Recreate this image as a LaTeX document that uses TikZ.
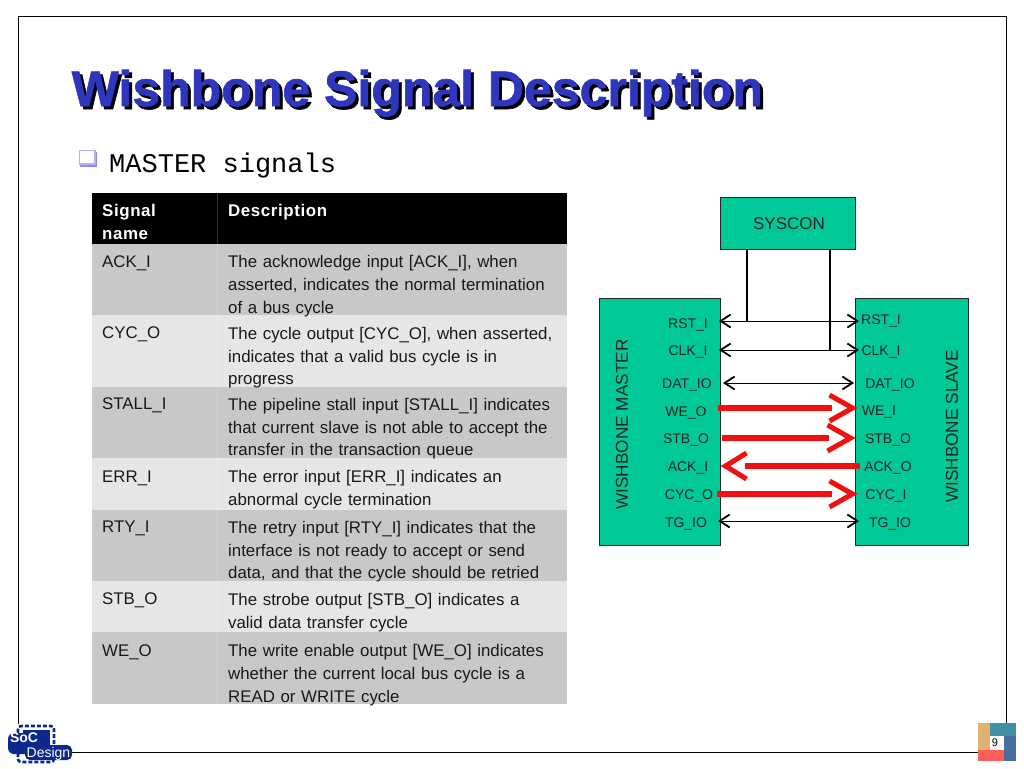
\documentclass[tikz,border=0pt]{standalone}
\usepackage{fontspec}
\setmainfont{Liberation Sans}
\newfontfamily\monofont{Liberation Mono}
\usetikzlibrary{arrows.meta}
\definecolor{wbgreen}{RGB}{0,200,150}
\definecolor{wbblue}{RGB}{46,54,190}
\definecolor{rowdark}{RGB}{200,200,200}
\definecolor{rowlight}{RGB}{230,230,230}
\definecolor{logoblue}{RGB}{12,40,140}
\definecolor{wbred}{RGB}{240,16,16}
\definecolor{boxtan}{RGB}{224,178,112}
\definecolor{boxteal}{RGB}{64,145,165}
\definecolor{boxblue}{RGB}{72,110,155}
\definecolor{boxred}{RGB}{250,95,90}
\tikzset{
	cell/.style={anchor=north west, inner sep=0pt, align=left, text width=#1, font=\fontsize{16.85}{22.7}\selectfont, text=black!90},
	headcell/.style={cell=#1, font=\fontsize{16.9}{23}\selectfont\bfseries\addfontfeatures{LetterSpace=3.5}, text=white},
	titletext/.style={anchor=base west, inner sep=0pt, font=\fontsize{50}{50}\selectfont\bfseries\addfontfeatures{FakeBold=1.2}},
	block/.style={draw=black!85, line width=1pt, fill=wbgreen, inner sep=0pt, anchor=north west, text=black!85},
	blockname/.style={rotate=90, inner sep=0pt, font=\fontsize{17.2}{17.2}\selectfont, text=black!85},
	sig/.style={font=\fontsize{14}{14}\selectfont, text=black!85, inner sep=0pt, yshift=-1.5pt},
	thinsig/.style={line width=1pt, {Straight Barb[length=10pt,width=13pt,line width=1.8pt]}-{Straight Barb[length=10pt,width=13pt,line width=1.8pt]}},
	redshaft/.style={draw=wbred, line width=6pt},
	redhead/.style={draw=wbred, line width=5pt},
}
\begin{document}
\begin{tikzpicture}[x=1pt, y=-1pt]
			\useasboundingbox (0, 0) rectangle (1024, 768);
			\fill[white] (0, 0) rectangle (1024, 768);
			
			%%%%% FRAME %%%%%
			\draw[line width=0.9pt] (18, 16) rectangle (1006, 752);
			
			\node[titletext, text=black] (titleshadow) at (74.5, 109) {Wishbone Signal Description};
			\node[titletext, text=wbblue] (title) at (71.5, 106) {Wishbone Signal Description};
			
			\fill[black!25!blue!45!white] (80, 152) rectangle (97, 167);
			\draw[line width=1.4pt, draw=black!20!blue!30!white, fill=white] (79.7, 150.7) rectangle (95, 164);
			\node[anchor=base west, inner sep=0pt, font=\fontsize{27}{27}\selectfont\monofont] (bullet) at (109, 172.5) {MASTER signals};
			
			%%%%% TABLE %%%%%
			\fill[black] (92, 193) rectangle (567, 244);
			\fill[rowdark] (92, 244) rectangle (567, 315);
			\fill[rowlight] (92, 315) rectangle (567, 387);
			\fill[rowdark] (92, 387) rectangle (567, 458);
			\fill[rowlight] (92, 458) rectangle (567, 510);
			\fill[rowdark] (92, 510) rectangle (567, 581);
			\fill[rowlight] (92, 581) rectangle (567, 632);
			\fill[rowdark] (92, 632) rectangle (567, 704);
			\draw[white, opacity=0.2, line width=0.6pt] (217, 193) -- (217, 704);
			
			\node[headcell=100pt] (headname) at (102, 204.5) {Signal\\name};
			\node[headcell=300pt] (headdesc) at (228, 204.5) {Description};
			
			\node[cell=100pt] (ackname) at (102, 255.5) {ACK\_I};
			\node[cell=335pt] (ackdesc) at (228, 255.5) {The acknowledge input [ACK\_I], when\\asserted, indicates the normal termination\\of a bus cycle};
			\node[cell=100pt] (cycname) at (102, 327) {CYC\_O};
			\node[cell=335pt] (cycdesc) at (228, 327) {The cycle output [CYC\_O], when asserted,\\indicates that a valid bus cycle is in\\progress};
			\node[cell=100pt] (stallname) at (102, 398) {STALL\_I};
			\node[cell=335pt] (stalldesc) at (228, 398) {The pipeline stall input [STALL\_I] indicates\\that current slave is not able to accept the\\transfer in the transaction queue};
			\node[cell=100pt] (errname) at (102, 470.5) {ERR\_I};
			\node[cell=335pt] (errdesc) at (228, 470.5) {The error input [ERR\_I] indicates an\\abnormal cycle termination};
			\node[cell=100pt] (rtyname) at (102, 521) {RTY\_I};
			\node[cell=335pt] (rtydesc) at (228, 521) {The retry input [RTY\_I] indicates that the\\interface is not ready to accept or send\\data, and that the cycle should be retried};
			\node[cell=100pt] (stbname) at (102, 593) {STB\_O};
			\node[cell=335pt] (stbdesc) at (228, 593) {The strobe output [STB\_O] indicates a\\valid data transfer cycle};
			\node[cell=100pt] (wename) at (102, 644.5) {WE\_O};
			\node[cell=335pt] (wedesc) at (228, 644.5) {The write enable output [WE\_O] indicates\\whether the current local bus cycle is a\\READ or WRITE cycle};
			
			%%%%% BLOCKS %%%%%
			\node[block, minimum width=135pt, minimum height=52pt, font=\fontsize{17}{17}\selectfont] (syscon) at (720, 197) {\hspace{2pt}SYSCON};
			\node[block, minimum width=121pt, minimum height=247pt] (master) at (599, 298) {};
			\node[block, minimum width=113pt, minimum height=247pt] (slave) at (855, 298) {};
			\node[blockname] (mastername) at (622, 424.5) {WISHBONE MASTER};
			\node[blockname] (slavename) at (952, 426.5) {WISHBONE SLAVE};
			
			\node[sig] (mrst) at (688, 323) {RST\_I};
			\node[sig] (mclk) at (688, 350) {CLK\_I};
			\node[sig] (mdat) at (687, 383) {DAT\_IO};
			\node[sig] (mwe) at (686, 411) {WE\_O};
			\node[sig] (mstb) at (686, 438) {STB\_O};
			\node[sig] (mack) at (688, 466) {ACK\_I};
			\node[sig] (mcyc) at (689, 494) {CYC\_O};
			\node[sig] (mtg) at (686, 522) {TG\_IO};
			
			\node[sig] (srst) at (881, 319) {RST\_I};
			\node[sig] (sclk) at (881, 350) {CLK\_I};
			\node[sig] (sdat) at (890, 383) {DAT\_IO};
			\node[sig] (swe) at (879, 411) {WE\_I};
			\node[sig] (sstb) at (888, 438) {STB\_O};
			\node[sig] (sack) at (888, 466) {ACK\_O};
			\node[sig] (scyc) at (886, 494) {CYC\_I};
			\node[sig] (stg) at (890, 522) {TG\_IO};
			
			%%%%% CONNECTORS %%%%%
			\coordinate (rstA) at (719, 321);
			\coordinate (rstB) at (859, 321);
			\coordinate (clkA) at (719, 350);
			\coordinate (clkB) at (859, 350);
			\coordinate (datA) at (723, 383);
			\coordinate (datB) at (854, 383);
			\coordinate (tgA) at (718, 521);
			\coordinate (tgB) at (859, 521);
			\coordinate (rstT) at (747, 249);
			\coordinate (rstJ) at (747, 321);
			\coordinate (clkT) at (830, 249);
			\coordinate (clkJ) at (830, 350);
			
			\draw[thinsig] (rstA) -- (rstB);
			\draw[thinsig] (clkA) -- (clkB);
			\draw[thinsig] (datA) -- (datB);
			\draw[thinsig] (tgA) -- (tgB);
			\draw[line width=1.3pt] (rstT) -- (rstJ);
			\draw[line width=1.3pt] (clkT) -- (clkJ);
			
			\coordinate (weA) at (718, 408);
			\coordinate (weB) at (852.5, 408);
			\coordinate (stbA) at (722, 438);
			\coordinate (stbB) at (850.5, 438);
			\coordinate (ackA) at (860, 466);
			\coordinate (ackB) at (725.5, 466);
			\coordinate (cycA) at (717, 494);
			\coordinate (cycB) at (852.5, 494);
			
			\draw[redshaft, shorten >=20.5pt] (weA) -- (weB);
			\draw[redhead] (weB) ++(-23, -13) -- (weB) -- ++(-23, 13);
			\draw[redshaft, shorten >=21.5pt] (stbA) -- (stbB);
			\draw[redhead] (stbB) ++(-23, -13) -- (stbB) -- ++(-23, 13);
			\draw[redshaft, shorten >=19.5pt] (ackA) -- (ackB);
			\draw[redhead] (ackB) ++(21, -13) -- (ackB) -- ++(21, 13);
			\draw[redshaft, shorten >=20.5pt] (cycA) -- (cycB);
			\draw[redhead] (cycB) ++(-23, -13) -- (cycB) -- ++(-23, 13);
			
			%%%%% LOGO %%%%%
			\fill[white] (16, 724) rectangle (57, 764);
			\draw[logoblue, line width=2.6pt, dash pattern=on 4pt off 2pt, rounded corners=3pt] (18, 726) rectangle (54, 762);
			\fill[logoblue] (23, 730) rectangle (50, 747);
			\fill[logoblue, rounded corners=6pt] (8, 733) rectangle (32, 754);
			\fill[logoblue, rounded corners=5pt] (25, 745) rectangle (72, 760);
			\node[inner sep=0pt, text=white, font=\fontsize{14}{14}\selectfont\bfseries] (logosoc) at (24, 738) {SoC};
			\node[inner sep=0pt, text=white, font=\fontsize{14}{14}\selectfont] (logodesign) at (48.5, 753.5) {Design};
			
			%%%%% PAGE BOX %%%%%
			\fill[boxtan] (978, 723) rectangle (990, 751);
			\fill[boxteal] (990, 723) rectangle (1016, 736);
			\fill[boxblue] (1004, 736) rectangle (1016, 761);
			\fill[boxred] (978, 750) rectangle (1004, 761);
			\fill[white] (990, 736) rectangle (1004, 750);
			\node[inner sep=0pt, font=\fontsize{11}{11}\selectfont] (pagenum) at (995, 743) {9};
\end{tikzpicture}
\end{document}
